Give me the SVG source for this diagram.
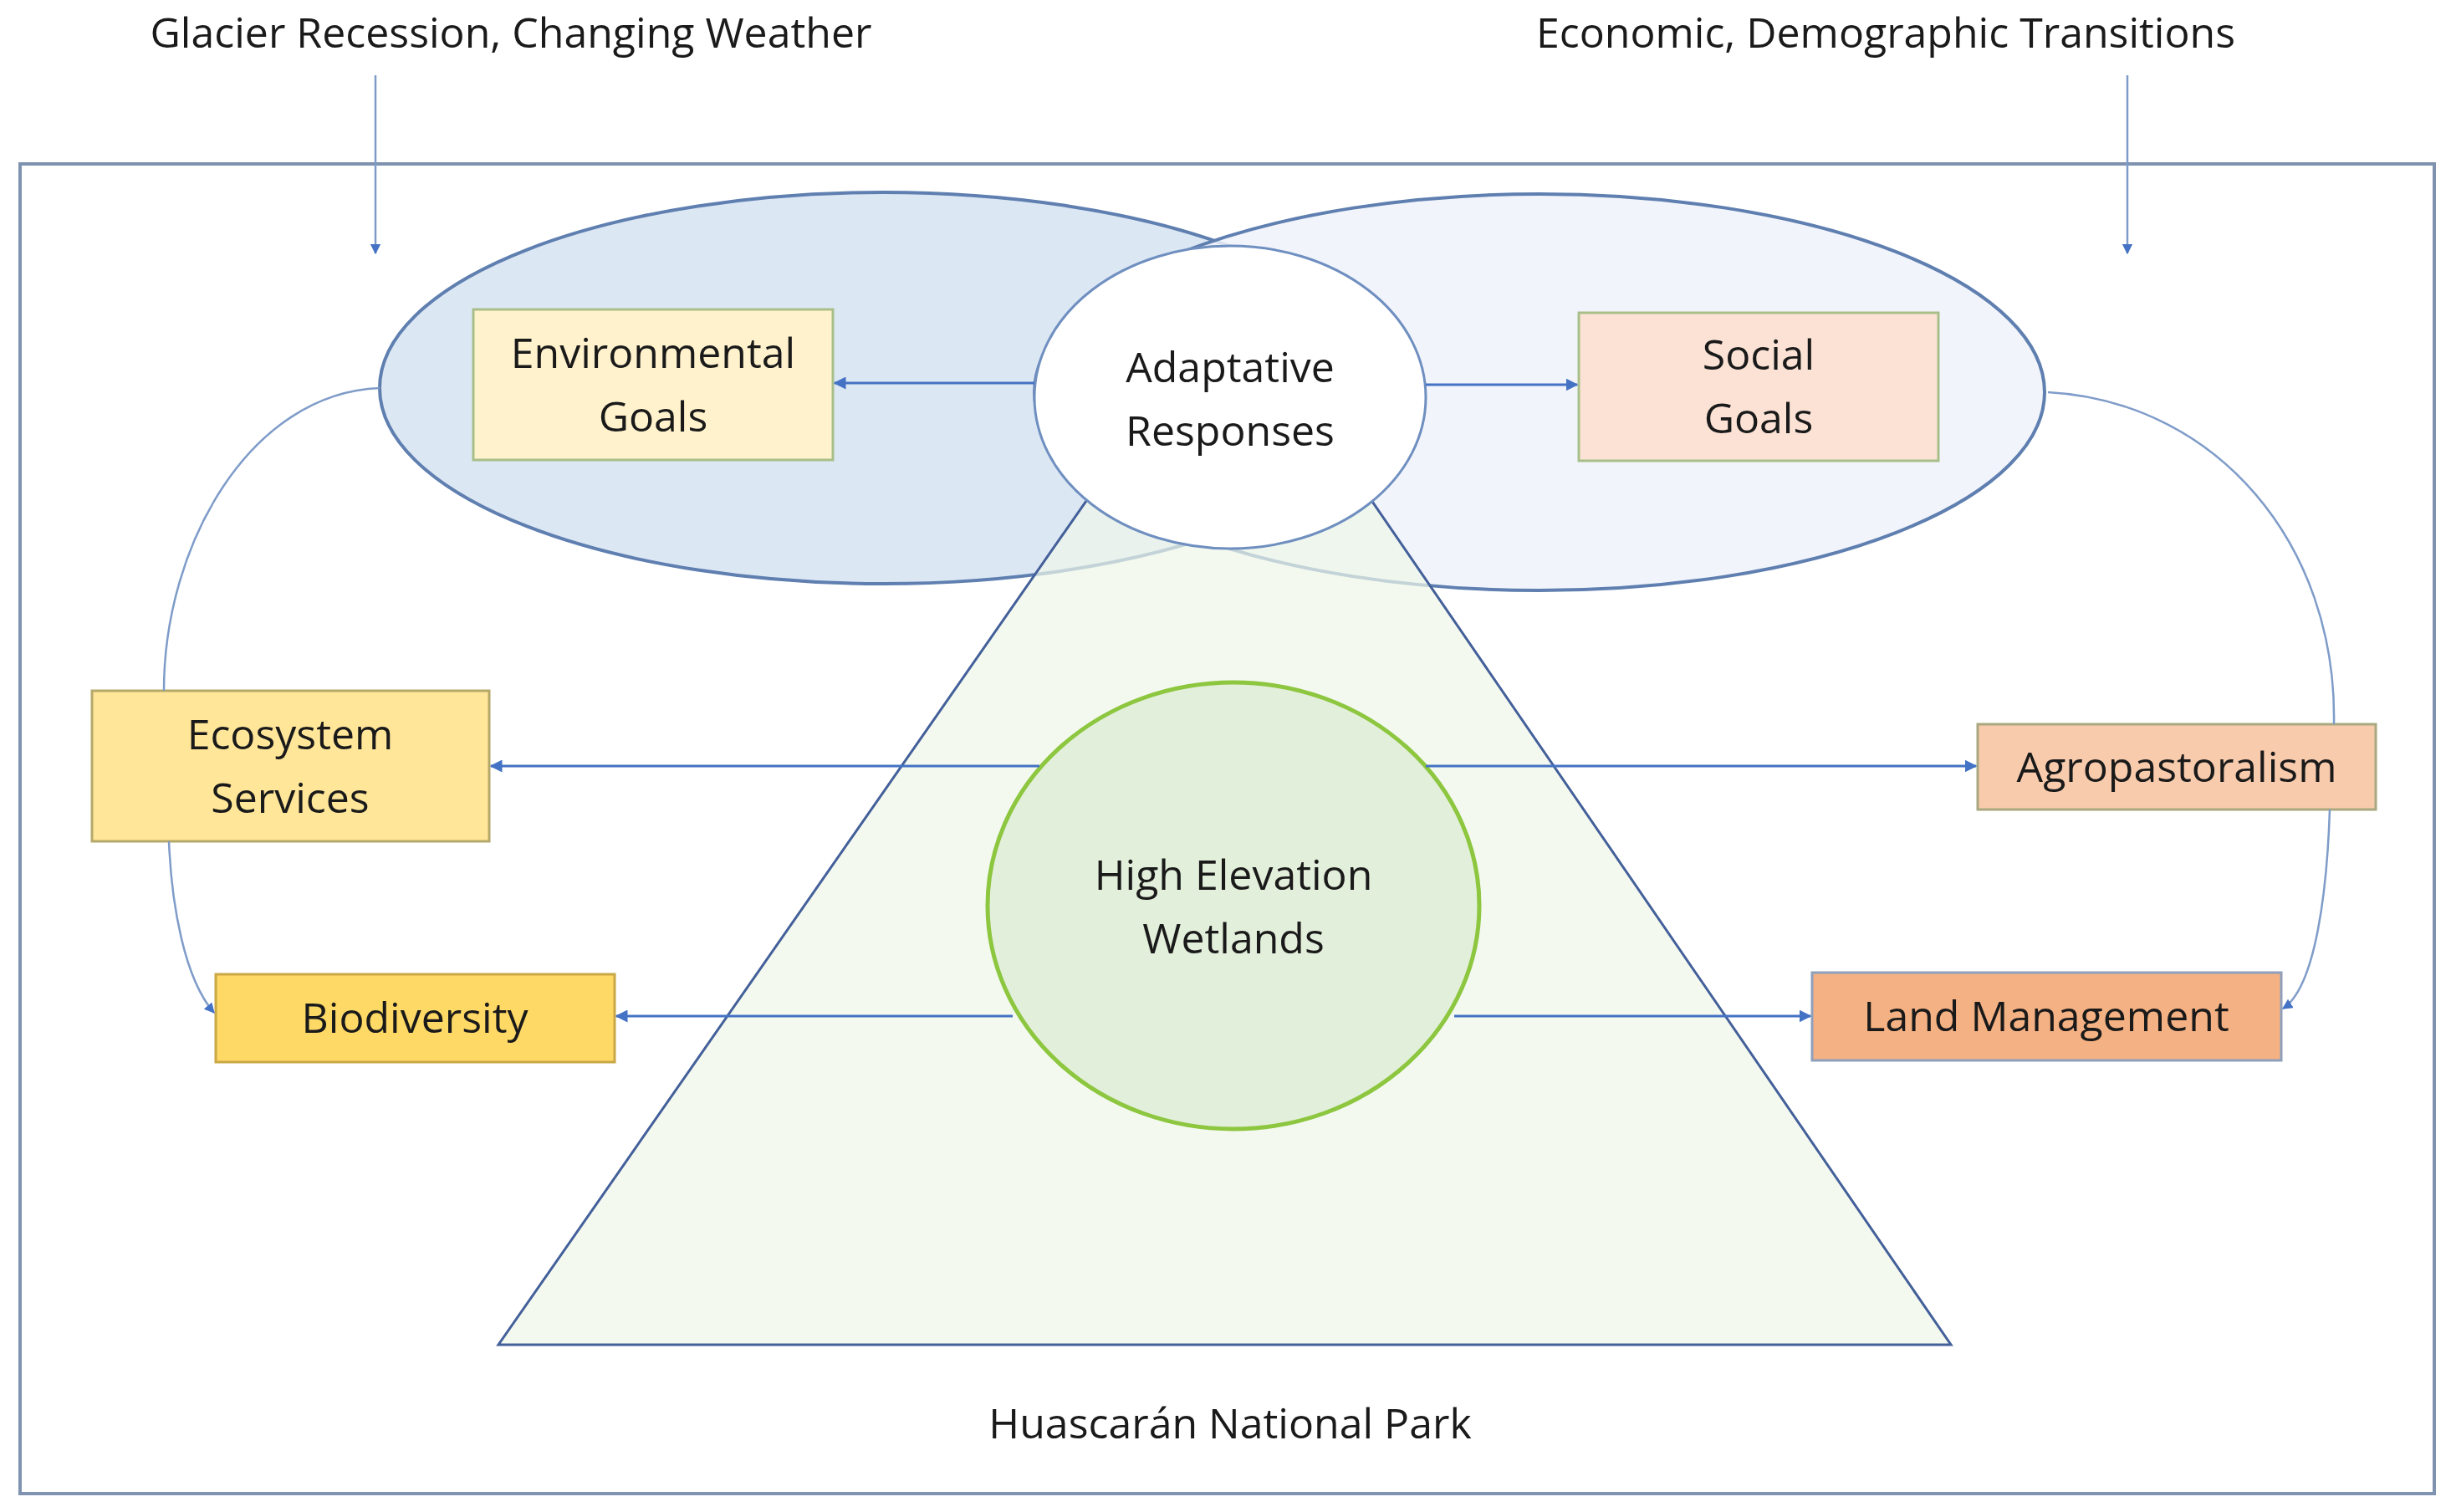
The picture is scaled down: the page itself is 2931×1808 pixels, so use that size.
<svg xmlns="http://www.w3.org/2000/svg" width="2931" height="1808" viewBox="0 0 2931 1808">
<style>
text{font-family:"Open Sans","Liberation Sans",sans-serif;font-size:50px;fill:#1a1a1a;text-anchor:middle}
.c{fill:none;stroke:#4472c4;stroke-width:3}
.t{fill:none;stroke:#7f9cc9;stroke-width:2.5}
.box{stroke-width:3}
</style>
<defs>
<marker id="a" viewBox="0 0 10 10" refX="9" refY="5" markerWidth="5" markerHeight="5" orient="auto"><path d="M0,0L10,5L0,10z" fill="#4472c4"/></marker>
</defs>
<rect width="2931" height="1808" fill="#fff"/>
<g id="park"><rect x="24" y="196" width="2887" height="1590" fill="none" stroke="#7f93b0" stroke-width="4"/>
<text x="1471" y="1720">Huascarán National Park</text></g>
<g id="drivers">
<text x="611" y="57">Glacier Recession, Changing Weather</text>
<text x="2255" y="57">Economic, Demographic Transitions</text></g>
<g id="env-ellipse"><ellipse cx="1056" cy="464" rx="602" ry="234" fill="#dce7f4" stroke="#5f7fb0" stroke-width="4"/></g>
<g id="soc-ellipse"><ellipse cx="1841" cy="469" rx="604" ry="237" fill="#eef2fa" fill-opacity="0.85" stroke="#5f7fb0" stroke-width="4"/></g>
<g id="triangle"><polygon points="1471,352 596,1608 2333,1608" fill="#eef6e8" fill-opacity="0.7" stroke="#44609a" stroke-width="3"/></g>
<g id="adaptive"><ellipse cx="1471" cy="475" rx="234" ry="181" fill="#fff" stroke="#6f8fc0" stroke-width="3"/>
<text x="1471" y="457">Adaptative</text><text x="1471" y="533">Responses</text></g>
<g id="env"><rect class="box" x="566" y="370" width="430" height="180" fill="#fff2cc" stroke="#a9bf8a"/>
<text x="781" y="440">Environmental</text><text x="781" y="516">Goals</text></g>
<g id="social"><rect class="box" x="1888" y="374" width="430" height="177" fill="#fbe2d5" stroke="#a9bf8a"/>
<text x="2103" y="442">Social</text><text x="2103" y="518">Goals</text></g>
<g id="wetlands"><ellipse cx="1475" cy="1083" rx="294" ry="267" fill="#e2efda" stroke="#8dc63f" stroke-width="5"/>
<text x="1475" y="1064">High Elevation</text><text x="1475" y="1140">Wetlands</text></g>
<g id="eco"><rect class="box" x="110" y="826" width="475" height="180" fill="#ffe699" stroke="#b5a96a"/>
<text x="347" y="896">Ecosystem</text><text x="347" y="972">Services</text></g>
<g id="bio"><rect class="box" x="258" y="1165" width="477" height="105" fill="#ffd966" stroke="#c9a845"/>
<text x="496" y="1235">Biodiversity</text></g>
<g id="agro"><rect class="box" x="2365" y="866" width="476" height="102" fill="#f8cbad" stroke="#a9a880"/>
<text x="2603" y="935">Agropastoralism</text></g>
<g id="land"><rect class="box" x="2167" y="1163" width="561" height="105" fill="#f4b183" stroke="#8fa0bc"/>
<text x="2447" y="1233">Land Management</text></g>
<g id="connectors">
<line class="t" x1="449" y1="90" x2="449" y2="303" marker-end="url(#a)"/>
<line class="t" x1="2544" y1="90" x2="2544" y2="303" marker-end="url(#a)"/>
<line class="c" x1="1237" y1="458" x2="998" y2="458" marker-end="url(#a)"/>
<line class="c" x1="1705" y1="460" x2="1886" y2="460" marker-end="url(#a)"/>
<line class="c" x1="1243" y1="916" x2="587" y2="916" marker-end="url(#a)"/>
<line class="c" x1="1705" y1="916" x2="2363" y2="916" marker-end="url(#a)"/>
<line class="c" x1="1211" y1="1215" x2="737" y2="1215" marker-end="url(#a)"/>
<line class="c" x1="1739" y1="1215" x2="2165" y2="1215" marker-end="url(#a)"/>
<path class="t" d="M454,464 C300,470 196,650 196,826"/>
<path class="t" d="M202,1006 C205,1080 220,1170 256,1211" marker-end="url(#a)"/>
<path class="t" d="M2449,469 C2650,480 2795,650 2791,866"/>
<path class="t" d="M2786,968 C2783,1060 2770,1180 2730,1206" marker-end="url(#a)"/>
</g>
</svg>
